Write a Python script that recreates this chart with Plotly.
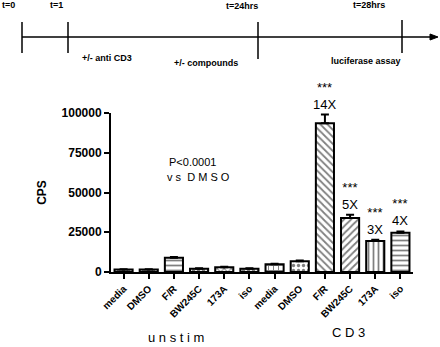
import plotly.graph_objects as go

categories = ["media", "DMSO", "F/R", "BW245C", "173A", "iso",
              "media ", "DMSO ", "F/R ", "BW245C ", "173A ", "iso "]
tick_labels = ["media", "DMSO", "F/R", "BW245C", "173A", "iso",
               "media", "DMSO", "F/R", "BW245C", "173A", "iso"]
values = [1500, 1500, 9000, 2000, 3000, 2000, 4800, 6700, 93500, 34000, 19500, 24700]
errors = [300, 300, 500, 300, 300, 300, 400, 500, 5500, 2000, 800, 800]
patterns = [".", ".", "-", ".", "x", ".", "+", ".", "\\", "/", "|", "-"]
fold_labels = ["", "", "", "", "", "", "", "", "***<br>14X", "***<br>5X", "***<br>3X", "***<br>4X"]
y_ticks = [0, 25000, 50000, 75000, 100000]
y_tick_text = ["0", "25000", "50000", "75000", "100000"]

W, H = 440, 347
L, R, T, B = 111, 413, 113, 272

def px(x):
    return (x - L) / (R - L)

def py(y):
    return (B - y) / (B - T)

fig = go.Figure()
fig.add_trace(go.Bar(
    x=categories, y=values,
    width=0.72,
    marker=dict(color="white", line=dict(color="black", width=2),
                pattern=dict(shape=patterns, fgcolor="black", bgcolor="white",
                             size=5, solidity=0.35)),
    error_y=dict(type="data", array=errors, arrayminus=[0] * len(errors),
                 color="black", thickness=2, width=4),
    showlegend=False,
    hoverinfo="skip",
))

annotations = []
for c, v, e, lab in zip(categories, values, errors, fold_labels):
    if lab:
        annotations.append(dict(x=c, y=v + e, text=lab, showarrow=False,
                                yanchor="bottom", yshift=1,
                                font=dict(family="Liberation Sans", size=13, color="black")))

# timeline
shapes = []
tl_y = 37
shapes.append(dict(type="line", xref="paper", yref="paper", x0=px(22), x1=px(432),
                   y0=py(tl_y), y1=py(tl_y), line=dict(color="black", width=1.5)))
shapes.append(dict(type="path", xref="paper", yref="paper",
                   path=f"M {px(430)} {py(tl_y-3)} L {px(438)} {py(tl_y)} L {px(430)} {py(tl_y+3)} Z",
                   fillcolor="black", line=dict(color="black", width=1)))
for xt, y0, y1 in [(22, 22, 53), (68, 22, 53), (258, 22, 59), (402, 20, 53)]:
    shapes.append(dict(type="line", xref="paper", yref="paper", x0=px(xt), x1=px(xt),
                       y0=py(y0), y1=py(y1), line=dict(color="black", width=1.5)))

def txt(x, y, s, size=9, bold=True, xanchor="left"):
    annotations.append(dict(xref="paper", yref="paper", x=px(x), y=py(y), text=f"<b>{s}</b>" if bold else s,
                            showarrow=False, xanchor=xanchor, yanchor="middle",
                            font=dict(family="Liberation Sans", size=size, color="black")))

txt(0, 5, "t=0")
txt(48, 5, "t=1")
txt(224, 6, "t=24hrs")
txt(351, 5, "t=28hrs")
txt(80, 58, "+/- anti CD3")
txt(172, 63, "+/- compounds")
txt(329, 61, "luciferase assay")
txt(167, 162, "P&lt;0.0001", size=11, bold=False)
txt(165, 177, "v s  D M S O", size=11, bold=False)
txt(176, 337, "u n s t i m", size=13, bold=False, xanchor="center")
txt(348, 332, "C D 3", size=13, bold=False, xanchor="center")

fig.update_layout(
    width=W, height=H,
    margin=dict(l=L, r=W - R, t=T, b=H - B, pad=0),
    paper_bgcolor="white", plot_bgcolor="white",
    annotations=annotations, shapes=shapes,
    font=dict(family="Liberation Sans", color="black"),
    xaxis=dict(range=[-0.5, 11.5], tickmode="array", tickvals=categories,
               ticktext=[f"<b>{t}</b>" for t in tick_labels],
               tickangle=-45, ticks="outside", ticklen=5, tickwidth=2, tickcolor="black",
               showline=True, linecolor="black", linewidth=2, showgrid=False, zeroline=False,
               tickfont=dict(family="Liberation Sans", size=10, color="black")),
    yaxis=dict(range=[0, 100000], tickvals=y_ticks, ticktext=[f"<b>{t}</b>" for t in y_tick_text],
               ticks="outside", ticklen=5, tickwidth=2, tickcolor="black",
               showline=True, linecolor="black", linewidth=2, showgrid=False, zeroline=False,
               tickfont=dict(family="Liberation Sans", size=12, color="black"),
               title=dict(text="<b>CPS</b>", font=dict(family="Liberation Sans", size=12), standoff=12)),
)

fig.write_html("out.html", config={"displayModeBar": False},
               post_script="document.body.style.margin='0';document.body.style.overflow='hidden';")
